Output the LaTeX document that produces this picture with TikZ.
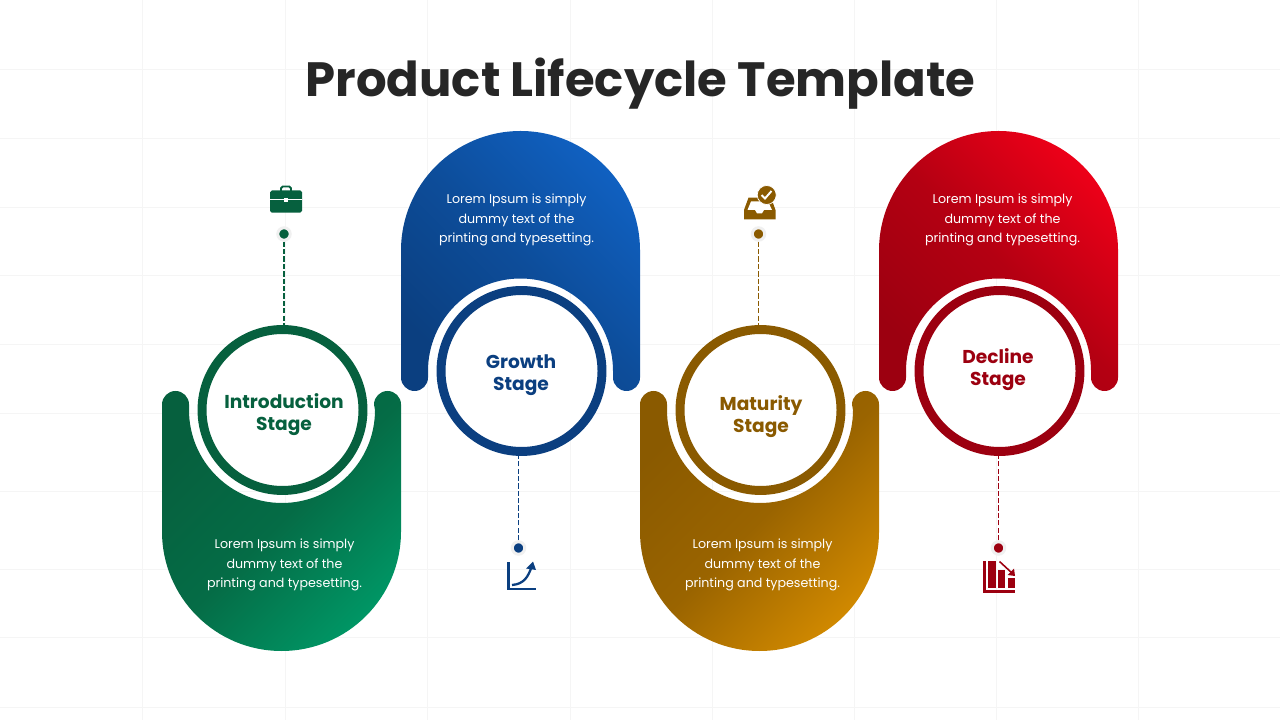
\documentclass[tikz,border=0pt]{standalone}
\usepackage{fontspec}
\setmainfont{Poppins}
\definecolor{gridline}{HTML}{F5F5F5}
\definecolor{dothalo}{HTML}{F0F0F0}
\definecolor{greendark}{HTML}{06603E}
\definecolor{greenmid}{HTML}{056C46}
\definecolor{greenlight}{HTML}{009564}
\definecolor{bluedark}{HTML}{0B3F80}
\definecolor{bluemid}{HTML}{0D4D9A}
\definecolor{bluelight}{HTML}{1060C0}
\definecolor{amberdark}{HTML}{8A5A00}
\definecolor{ambermid}{HTML}{9A6400}
\definecolor{amberlight}{HTML}{CF8800}
\definecolor{reddark}{HTML}{9C0010}
\definecolor{redmid}{HTML}{B40012}
\definecolor{redlight}{HTML}{EC0018}
\tikzset{
  ring/.style={circle, draw=#1, fill=white, line width=5.1pt, minimum size=3.22cm, inner sep=0pt},
  dot/.style={circle, fill=#1, draw=dothalo, line width=1.7pt, minimum size=0.25cm, inner sep=0pt},
  stagetext/.style={text=#1, align=center, font=\fontsize{10.6}{12.6}\selectfont\bfseries},
  bodytext/.style={text=white, align=center, font=\fontsize{7.2}{11.1}\selectfont},
  dashline/.style={draw=#1, line width=0.6pt, dash pattern=on 3pt off 1.2pt},
}
\begin{document}
\begin{tikzpicture}[x=0.02cm, y=0.02cm]
\useasboundingbox (0,0) rectangle (1280,720);
% grid
\draw[gridline, line width=0.5pt] (142,0) -- (142,720) (285,0) -- (285,720) (427,0) -- (427,720) (570,0) -- (570,720) (712,0) -- (712,720) (854,0) -- (854,720) (996,0) -- (996,720) (1138,0) -- (1138,720);
\draw[gridline, line width=0.5pt] (0,651) -- (1280,651) (0,582) -- (1280,582) (0,513) -- (1280,513) (0,445) -- (1280,445) (0,376) -- (1280,376) (0,307) -- (1280,307) (0,229) -- (1280,229) (0,151) -- (1280,151) (0,83) -- (1280,83) (0,13) -- (1280,13);
\node[text=black!85, font=\fontsize{27.4}{32}\selectfont\bfseries] (title) at (640.5,636) {Product Lifecycle Template};
% lobes
\path[top color=greendark, bottom color=greenlight, middle color=greenmid, shading angle=45]
  (162,315.5) arc[start angle=180, end angle=0, radius=13.5] -- (189,310)
  arc[start angle=180, end angle=360, radius=93] -- (374,315.5)
  arc[start angle=180, end angle=0, radius=13.5] -- (401,188.5)
  arc[start angle=0, end angle=-180, radius=119.5] -- cycle;
\path[top color=bluelight, bottom color=bluedark, middle color=bluemid, shading angle=-45]
  (401,469.5) arc[start angle=180, end angle=0, radius=119.5] -- (640,342.5)
  arc[start angle=0, end angle=-180, radius=13.5] -- (613,349)
  arc[start angle=0, end angle=180, radius=92.5] -- (428,342.5)
  arc[start angle=0, end angle=-180, radius=13.5] -- cycle;
\path[top color=amberdark, bottom color=amberlight, middle color=ambermid, shading angle=45]
  (640,315.5) arc[start angle=180, end angle=0, radius=13.5] -- (667,310)
  arc[start angle=180, end angle=360, radius=93] -- (852,315.5)
  arc[start angle=180, end angle=0, radius=13.5] -- (879,188.5)
  arc[start angle=0, end angle=-180, radius=119.5] -- cycle;
\path[top color=redlight, bottom color=reddark, middle color=redmid, shading angle=-45]
  (879,469.5) arc[start angle=180, end angle=0, radius=119.5] -- (1118,342.5)
  arc[start angle=0, end angle=-180, radius=13.5] -- (1091,349)
  arc[start angle=0, end angle=180, radius=92.5] -- (906,342.5)
  arc[start angle=0, end angle=-180, radius=13.5] -- cycle;
% rings
\node[ring=greendark] (ringintro) at (282.5,310) {};
\node[ring=bluedark] (ringgrowth) at (521.5,349) {};
\node[ring=amberdark] (ringmature) at (760.5,310) {};
\node[ring=reddark] (ringdecline) at (999.5,349) {};
\node[stagetext=greendark] (labelintro) at (284,305.5) {Introduction\\Stage};
\node[stagetext=bluedark] (labelgrowth) at (521,345) {Growth\\Stage};
\node[stagetext=amberdark] (labelmature) at (761,303.5) {Maturity\\Stage};
\node[stagetext=reddark] (labeldecline) at (998,350) {Decline\\Stage};
% body texts
\node[bodytext] (textintro) at (284.5,155) {Lorem Ipsum is simply\\dummy text of the\\printing and typesetting.};
\node[bodytext] (textgrowth) at (516.5,500) {Lorem Ipsum is simply\\dummy text of the\\printing and typesetting.};
\node[bodytext] (textmature) at (762.5,155) {Lorem Ipsum is simply\\dummy text of the\\printing and typesetting.};
\node[bodytext] (textdecline) at (1002.5,500) {Lorem Ipsum is simply\\dummy text of the\\printing and typesetting.};
% dots
\node[dot=greendark] (dotintro) at (284,486) {};
\node[dot=bluedark] (dotgrowth) at (518.5,172) {};
\node[dot=amberdark] (dotmature) at (758.5,486) {};
\node[dot=reddark] (dotdecline) at (998.5,172) {};
\draw[dashline=greendark] (dotintro) -- (dotintro |- ringintro.north);
\draw[dashline=bluedark] (dotgrowth) -- (dotgrowth |- ringgrowth.south);
\draw[dashline=amberdark] (dotmature) -- (dotmature |- ringmature.north);
\draw[dashline=reddark] (dotdecline) -- (dotdecline |- ringdecline.south);
% briefcase
\draw[greendark, line width=1.1pt, rounded corners=1pt] (281,528) -- (281,533.5) -- (291,533.5) -- (291,528);
\fill[greendark, rounded corners=1pt] (270,507.3) rectangle (302,529.5);
\fill[white] (270,519.6) rectangle (302,520.8);
\fill[white] (284,518) rectangle (288,522);
% tray with badge
\fill[amberdark] (744,500.7) -- (744,510) -- (748.5,522.3) -- (771,522.3) -- (775.5,510) -- (775.5,500.7) -- cycle;
\fill[white] (747.5,510) -- (751,518.5) -- (768,518.5) -- (772,510) -- (764,510) -- (762,506.7) -- (757,506.7) -- (755,510) -- cycle;
\fill[amberdark, draw=white, line width=0.4pt] (766.7,525) circle[radius=9.5];
\draw[white, line width=1.1pt] (761.5,525) -- (765,521.5) -- (771.5,529);
% growth chart
\fill[bluedark] (507.3,129.7) rectangle (536,132);
\fill[bluedark] (507.3,129.7) rectangle (510,158);
\draw[bluedark, line width=1.3pt] (512,135) .. controls (524,136) and (528,143) .. (531.5,153);
\fill[bluedark] (533,158.5) -- (526,151.5) -- (536,150) -- cycle;
% declining bars
\fill[reddark] (983.3,127.3) rectangle (1015,130);
\fill[reddark] (983.3,127.3) rectangle (986,159);
\fill[reddark] (988.3,132.3) rectangle (995.7,159);
\fill[reddark] (998.3,132.3) rectangle (1005,150);
\fill[reddark] (1007.7,132.3) rectangle (1015,141.7);
\draw[reddark, line width=0.9pt] (999.5,158.5) -- (1012,147);
\fill[reddark] (1015,144) -- (1014,151.5) -- (1007.5,145) -- cycle;
\end{tikzpicture}
\end{document}
